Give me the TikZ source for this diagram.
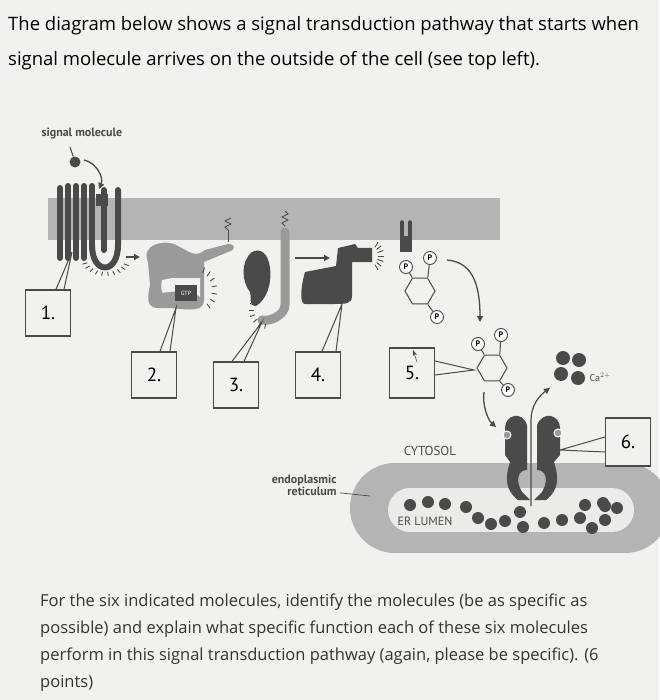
\documentclass[tikz,border=0pt]{standalone}
\usepackage{fontspec}
\setmainfont{Open Sans}
\newfontfamily\lab{PT Sans}
\usetikzlibrary{arrows.meta,shapes.geometric}
\definecolor{memb}{HTML}{B4B4B4}
\definecolor{dk}{HTML}{4A4A4A}
\definecolor{lt}{HTML}{9A9A9A}
\definecolor{bg}{HTML}{F1F1EF}
\tikzset{
 lbox/.style={draw=dk,line width=1.3pt,fill=bg,minimum width=45pt,minimum height=46pt,font=\lab\fontsize{19}{19}\selectfont,inner sep=0pt},
 ptr/.style={draw=dk,line width=1pt},
 arr/.style={draw=dk,line width=1.6pt,-{Triangle[length=6pt,width=6pt]}},
 pp/.style={circle,draw=dk,fill=white,line width=0.9pt,inner sep=0pt,minimum size=13pt,font=\lab\fontsize{8}{8}\selectfont\bfseries},
 hex/.style={regular polygon,regular polygon sides=6,draw=dk,line width=1pt,minimum size=30pt,shape border rotate=0},
 bond/.style={draw=dk,line width=1pt},
 ca/.style={circle,fill=dk,inner sep=0pt,minimum size=12pt},
 small/.style={font=\lab\fontsize{12}{13}\selectfont,text=dk},
 para/.style={font=\fontsize{16.5}{27}\selectfont,text=black!80,align=left,anchor=north west}
}
\begin{document}
\begin{tikzpicture}[x=1pt,y=-1pt]
\path[fill=bg] (0,0) rectangle (659,700);
\useasboundingbox (0,0) rectangle (659,700);
% header
\node[para,text=black,font=\fontsize{18.5}{35}\selectfont,inner sep=0pt] (t1) at (8,16) {The diagram below shows a signal transduction pathway that starts when\\signal molecule arrives on the outside of the cell (see top left).};
% membrane
\fill[memb] (48,198) rectangle (500,240);
% signal molecule
\node[small,font=\lab\fontsize{12}{13}\selectfont\bfseries,anchor=west] (sm) at (38,134) {signal molecule};
\node[circle,fill=dk,minimum size=11pt,inner sep=0] (sig) at (75,162) {};
\draw[dk,line width=1pt] (sig) -- (70,147);
\draw[arr,line width=1.3pt] (84,160) to[bend left=50] (99,189);
% receptor 1
\begin{scope}[dk,line width=6pt,line cap=round,line join=round]
\draw (60,188) -- (60,258) (68,258) -- (68,186) (76,186) -- (76,258) (84,258) -- (84,186) (92,186) -- (92,245);
\draw (92,245) .. controls (92,275) and (118,275) .. (118,245) -- (118,190);
\draw (104,190) -- (104,250);
\end{scope}
\fill[dk] (96,194) rectangle (108,206);
\foreach \a in {200,215,230,245,260,275,290,305,320,335} \draw[dk,line width=0.9pt] ({106+20*cos(\a)},{258-14*sin(\a)}) -- ({106+25*cos(\a)},{258-18*sin(\a)});
\coordinate (r1) at (72,252);
\draw[arr] (126,257) -- (140,257);
% G protein 2
\fill[lt] (148,262) .. controls (140,245) and (165,238) .. (178,246) .. controls (190,252) and (195,258) .. (205,250) -- (228,244) .. controls (236,244) and (236,250) .. (228,252) -- (204,262) -- (204,300) .. controls (204,312) and (190,310) .. (170,308) -- (158,308) .. controls (145,308) and (148,295) .. (150,285) -- cycle;
\fill[bg] (162,280) .. controls (160,290) and (162,298) .. (172,300) -- (200,300) -- (200,278) -- (172,278) -- cycle;
\fill[lt] (160,293) -- (190,290) -- (204,300) -- (190,305) -- (165,305)  -- cycle;
\node[fill=dk,text=white,font=\lab\fontsize{6}{6}\selectfont,minimum width=22pt,minimum height=16pt,inner sep=0] (gtp) at (186,293) {GTP};
\draw[dk,line width=0.9pt] (228,242) -- (228,230);
\draw[dk,line width=0.8pt] (228,230) -- (225,227) -- (231,224) -- (225,221) -- (231,218);
\foreach \a in {-70,-50,-30,-10,10,30,50} \draw[dk,line width=0.9pt] ({198+14*cos(\a)},{290+18*sin(\a)}) -- ({198+19*cos(\a)},{290+24*sin(\a)});
\coordinate (r2) at (176,308);
% 3
\fill[dk] (252,252) .. controls (240,262) and (242,282) .. (250,292) .. controls (252,300) and (248,305) .. (256,306) .. controls (266,300) and (272,285) .. (270,268) .. controls (268,252) and (260,248) .. (252,252) -- cycle;
\draw[lt,line width=9pt,line cap=round] (285,232) -- (285,305) .. controls (285,315) and (270,322) .. (262,320);
\draw[dk,line width=0.8pt] (285,226) -- (282,223) -- (288,220) -- (282,217) -- (288,214) -- (285,211);
\foreach \a in {100,120,140,160,180,200} \draw[dk,line width=0.9pt] ({268+14*cos(\a)},{310+14*sin(\a)}) -- ({268+19*cos(\a)},{310+19*sin(\a)});
\coordinate (r3) at (262,322);
\draw[arr] (295,258) -- (330,258);
% 4
\fill[dk] (305,272) -- (336,266) -- (338,248) -- (355,244) -- (358,248) -- (372,248) -- (372,262) -- (352,262) -- (352,296) .. controls (352,304) and (345,304) .. (335,304) -- (305,304) .. controls (300,304) and (300,290) .. (305,272) -- cycle;
\foreach \a in {-60,-40,-20,0,20,40,60} \draw[dk,line width=0.9pt] ({372+6*cos(\a)},{256+10*sin(\a)}) -- ({372+12*cos(\a)},{256+16*sin(\a)});
\coordinate (r4) at (342,304);
% PIP2 in membrane
\draw[dk,line width=3.5pt,line cap=round] (402,222) -- (402,240) (410,222) -- (410,240);
\fill[dk] (400,236) rectangle (412,252);
\node[hex] (h1) at (420,291) {};
\node[pp] (p1) at (406,267) {P};
\node[pp] (p2) at (430,258) {P};
\node[pp] (p3) at (437,317) {P};
\draw[bond] (p1) -- (h1.120) (p2) -- (h1.60) (p3) -- (h1.-60);
\draw[arr,line width=1.3pt] (447,260) .. controls (470,262) and (480,280) .. (480,322);
% IP3
\node[hex] (h2) at (492,368) {};
\node[pp] (p4) at (478,344) {P};
\node[pp] (p5) at (501,335) {P};
\node[pp] (p6) at (508,390) {P};
\draw[bond] (p4) -- (h2.120) (p5) -- (h2.60) (p6) -- (h2.-60);
\draw[arr,line width=1.3pt] (484,392) .. controls (482,405) and (488,420) .. (496,427);
% ER
\fill[memb] (395,463) rectangle (625,553);
\fill[memb] (395,508) circle (45) (625,508) circle (45);
\fill[bg!90!memb] (410,488) rectangle (612,532);
\fill[bg!90!memb] (410,510) circle (22) (612,510) circle (22);
\node[small,font=\lab\fontsize{13}{13}\selectfont] (cyt) at (430,451) {CYTOSOL};
\node[small,font=\lab\fontsize{12}{13}\selectfont] (lum) at (425,521) {ER LUMEN};
\node[small,align=right,font=\lab\fontsize{12}{12}\selectfont\bfseries,anchor=east] (er) at (340,485) {endoplasmic\\reticulum};
\draw[dk,line width=0.7pt] (er.south east) ++(0,-6) -- (370,496);
% channel 6
\fill[dk] (505,428) .. controls (505,415) and (522,410) .. (527,425) -- (527,470) .. controls (518,470) and (515,480) .. (522,492) -- (530,500) -- (518,500) .. controls (505,490) and (505,478) .. (510,462) -- (505,455) -- cycle;
\fill[dk] (560,428) .. controls (560,415) and (543,410) .. (537,425) -- (537,470) .. controls (546,470) and (549,480) .. (542,492) -- (534,500) -- (546,500) .. controls (559,490) and (559,478) .. (554,462) -- (560,455) -- cycle;
\draw[white,line width=1pt,fill=lt] (507,435) circle (4) (558,433) circle (4);
\draw[arr,line width=1.2pt] (531,506) -- (531,420) .. controls (531,405) and (540,395) .. (550,388);
\foreach \p in {(563,358),(579,360),(561,374),(578,378)} \node[ca,minimum size=14pt] at \p {};
\node[small,font=\lab\fontsize{10}{10}\selectfont,anchor=west] (cal) at (586,377) {Ca$^{2+}$};
\foreach \p in {(410,505),(428,502),(445,504),(466,507),(478,518),(491,524),(505,521),(520,512),(523,527),(544,523),(562,520),(580,518),(592,528),(605,506),(617,508),(605,520),(603,503),(585,505)} \node[ca] at \p {};
% label boxes with pointers
\node[lbox] (b1) at (48,313) {1.};
\draw[ptr] ([xshift=8pt]b1.north) -- (r1) -- ([xshift=16pt]b1.north);
\node[lbox] (b2) at (154,375) {2.};
\draw[ptr] ([xshift=6pt]b2.north) -- (r2) -- ([xshift=16pt]b2.north);
\node[lbox] (b3) at (236,385) {3.};
\draw[ptr] ([xshift=-4pt]b3.north) -- (r3) -- ([xshift=8pt]b3.north);
\node[lbox] (b4) at (318,375) {4.};
\draw[ptr] ([xshift=4pt]b4.north) -- (r4) -- ([xshift=18pt]b4.north);
\node[lbox,minimum height=50pt] (b5) at (412,373) {5.};
\draw[ptr] ([yshift=12pt]b5.east) -- (474,370) -- ([yshift=-2pt]b5.east);
\draw[dk,line width=0.5pt,-{Stealth[length=6pt]}] (417,362) -- (413,350);
\node[lbox,minimum height=48pt] (b6) at (628,442) {6.};
\draw[ptr] ([yshift=5pt]b6.west) -- (560,450) -- ([yshift=-10pt]b6.west);
% question
\node[para,inner sep=0pt] (q) at (40,594) {For the six indicated molecules, identify the molecules (be as specific as\\possible) and explain what specific function each of these six molecules\\perform in this signal transduction pathway (again, please be specific). (6\\points)};
\end{tikzpicture}
\end{document}
